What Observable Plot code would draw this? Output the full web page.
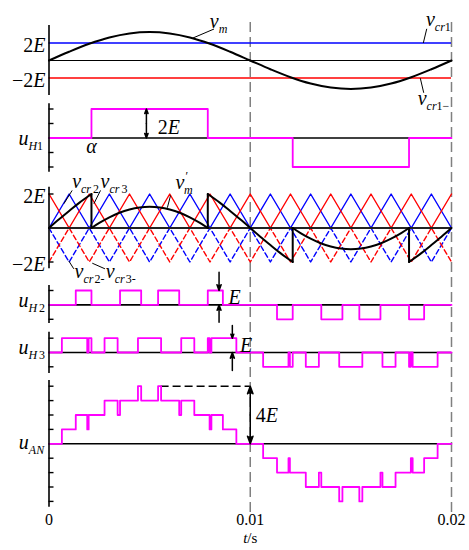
<!DOCTYPE html>
<html><head><meta charset="utf-8">
<script src="https://cdn.jsdelivr.net/npm/d3@7"></script>
<script src="https://cdn.jsdelivr.net/npm/@observablehq/plot@0.6"></script>
<style>
body{margin:0;background:#fff;}
#chart{position:relative;width:469px;height:550px;}
#chart svg{position:absolute;left:0;top:0;overflow:visible;}
</style></head><body><div id="chart"></div>
<script>
// ---------------- data (time in ms, values in units of E) ----------------
const xTicks = [0, 0.01, 0.02];
const xTickLabels = ["0", "0.01", "0.02"];

// modulating wave v_m (top panel)
const vmT = [0,1,2,3,4,5,6,7,8,9,10,11,12,13,14,15,16,17,18,19,20];
const vmV = [0,1.00,1.91,2.63,3.09,3.25,3.09,2.63,1.91,1.00,0,-1.00,-1.91,-2.63,-3.09,-3.25,-3.09,-2.63,-1.91,-1.00,0];

// carriers (vertices)
const carrierT = [0,1,2,3,4,5,6,7,8,9,10,11,12,13,14,15,16,17,18,19,20];
const vcr2V = [0,2,0,2,0,2,0,2,0,2,0,2,0,2,0,2,0,2,0,2,0];
const vcr3V = [2,0,2,0,2,0,2,0,2,0,2,0,2,0,2,0,2,0,2,0,2];
const vcr2mV = [0,-2,0,-2,0,-2,0,-2,0,-2,0,-2,0,-2,0,-2,0,-2,0,-2,0];
const vcr3mV = [-2,0,-2,0,-2,0,-2,0,-2,0,-2,0,-2,0,-2,0,-2,0,-2,0,-2];

// modified modulating wave v'_m, piecewise segments
const vmPrimeSegs = [
  {t:[0,0.5,1,1.5,2.11], v:[0,0.51,1.00,1.48,2.00]},
  {t:[2.11,2.11], v:[2.00,0]},
  {t:[2.11,2.5,3,3.5,4,4.5,5,5.5,6,6.5,7,7.5,7.89], v:[0,0.30,0.63,0.90,1.09,1.21,1.25,1.21,1.09,0.90,0.63,0.30,0]},
  {t:[7.89,7.89], v:[0,2.00]},
  {t:[7.89,8.5,9,9.5,10], v:[2.00,1.48,1.00,0.51,0]},
  {t:[10,10.5,11,11.5,12.11], v:[0,-0.51,-1.00,-1.48,-2.00]},
  {t:[12.11,12.11], v:[-2.00,0]},
  {t:[12.11,12.5,13,13.5,14,14.5,15,15.5,16,16.5,17,17.5,17.89], v:[0,-0.30,-0.63,-0.90,-1.09,-1.21,-1.25,-1.21,-1.09,-0.90,-0.63,-0.30,0]},
  {t:[17.89,17.89], v:[0,-2.00]},
  {t:[17.89,18.5,19,19.5,20], v:[-2.00,-1.48,-1.00,-0.51,0]}
];

// cell output pulses [start ms, end ms, level E]
const uH1Pulses = [[2.11,7.89,2],[12.11,17.89,-2]];
const uH2Pulses = [[1.33,2.11,1],[3.53,4.58,1],[5.42,6.47,1],[7.89,8.64,1],
                   [11.33,12.11,-1],[13.53,14.58,-1],[15.42,16.47,-1],[17.89,18.64,-1]];
const uH3Pulses = [[0.64,1.90,1],[1.97,2.11,1],[2.76,3.41,1],[4.42,5.57,1],[6.57,7.22,1],[7.89,7.98,1],[8.07,9.31,1],
                   [10.64,11.90,-1],[11.97,12.11,-1],[12.76,13.41,-1],[14.42,15.57,-1],[16.57,17.22,-1],[17.89,17.98,-1],[18.07,19.31,-1]];

// ---------------- annotations ----------------
const p1Labels = [{t:7.99,y:3.77,k:"vm"},{t:18.73,y:3.92,k:"vcr1"},{t:18.32,y:-5.06,k:"vcr1−"}];
const p1Leaders = [{t1:8.2,y1:3.6,t2:7.13,y2:2.55},{t1:18.77,y1:3.62,t2:18.6,y2:2},{t1:18.62,y1:-3.69,t2:18.45,y2:-2.02}];
const p2Labels = [{t:-1.52,y:-0.45,k:"uH1"},{t:5.4,y:0.3,k:"2E"}];
const p2Alpha = [{t:2.11,y:-1.0,k:"α"}];
const p2Arrows = [{t:4.84,from:1,to:2},{t:4.84,from:1,to:0}];
const p3Labels = [{t:1.15,y:2.38,k:"vcr2"},{t:2.56,y:2.38,k:"vcr3"},{t:6.29,y:2.3,k:"v′m"},{t:1.27,y:-2.97,k:"vcr2−"},{t:2.82,y:-2.97,k:"vcr3−"}];
const p3Leaders = [{t1:1.15,y1:2.21,t2:0.74,y2:1.43},{t1:2.56,y1:2.21,t2:2.23,y2:1.43},{t1:6.04,y1:1.91,t2:5.88,y2:1.19},
                   {t1:1.23,y1:-2.4,t2:0.99,y2:-1.95},{t1:2.78,y1:-2.4,t2:2.15,y2:-2.07}];
const p4Labels = [{t:-1.52,y:-0.18,k:"uH2"},{t:8.92,y:0.08,k:"E"}];
const p4Arrows = [{t:8.45,from:2.27,to:1},{t:8.45,from:-1.2,to:0}];
const p5Labels = [{t:-1.52,y:-0.09,k:"uH3"},{t:9.49,y:0.02,k:"E"}];
const p5Arrows = [{t:9.11,from:1.89,to:1},{t:9.11,from:-1.26,to:0}];
const p6Labels = [{t:-1.5,y:-0.33,k:"uAN"},{t:10.27,y:1.5,k:"4E"}];
const p6Arrows = [{t:10,from:2,to:4},{t:10,from:2,to:0}];
const p6PeakLine = [{t1:5.57,t2:10,y:4}];

// ---------------- rich text formats ----------------
const FMT = {
  "vm": [["v","i"],["m","is"]],
  "vcr1": [["v","i"],["cr","is"],["1","s"]],
  "vcr1−": [["v","i"],["cr","is"],["1−","s"]],
  "uH1": [["u","i"],["H","is"],["1","s"]],
  "α": [["α","i"]],
  "2E": [["2",""],["E","i"]],
  "−2E": [["−2",""],["E","i"]],
  "vcr2": [["v","i"],["cr","is"],["2","s",2]],
  "vcr3": [["v","i"],["cr","is"],["3","s",2]],
  "v′m": [["v","i"],["′","p",1],["m","is",-4]],
  "vcr2−": [["v","i"],["cr","is"],["2-","s",1]],
  "vcr3−": [["v","i"],["cr","is"],["3-","s",1]],
  "uH2": [["u","i"],["H","is"],["2","s",2]],
  "uH3": [["u","i"],["H","is"],["3","s",2]],
  "uAN": [["u","i"],["AN","is"]],
  "E": [["E","i"]],
  "4E": [["4",""],["E","i"]],
  "t/s": [["t","i"],["/s",""]]
};
function richify(svg){
  svg.querySelectorAll("text").forEach(el => {
    const spec = FMT[el.textContent];
    if (!spec) return;
    el.textContent = "";
    let shift = 0;
    for (const [str, st, dx] of spec) {
      const ts = document.createElementNS("http://www.w3.org/2000/svg","tspan");
      ts.textContent = str;
      const sub = st.includes("s"), sup = st.includes("p");
      const target = sub ? 5 : sup ? -9 : 0;
      if (target !== shift) ts.setAttribute("dy", target - shift);
      shift = target;
      if (st.includes("i")) ts.setAttribute("font-style","italic");
      if (sub || sup) ts.setAttribute("font-size", 12);
      if (dx) ts.setAttribute("dx", dx);
      el.appendChild(ts);
    }
  });
  svg.querySelectorAll('g[aria-label="arrow"] path').forEach(p => p.setAttribute("fill","black"));
}

// ---------------- helpers ----------------
const W = 469, H = 550, ML = 48.5, MR = 18;
const FONT = '"Liberation Serif","Times New Roman",serif';
const MAG = "#ff00ff", BLUE = "#0000ff", RED = "#ff0000";
const tx = d => d.t / 1000;

function steps(pulses){
  const pts = [{t:0,v:0}];
  for (const [s,e,l] of pulses) pts.push({t:s,v:0},{t:s,v:l},{t:e,v:l},{t:e,v:0});
  pts.push({t:20,v:0});
  return pts;
}
function sumSteps(list){
  const edges = Array.from(new Set([0,20].concat(...list.map(p => p.flatMap(([s,e]) => [s,e]))))).sort((a,b)=>a-b);
  const lvl = (p,t) => { for (const [s,e,l] of p) if (t >= s && t < e) return l; return 0; };
  const pts = [];
  for (let i = 0; i < edges.length - 1; i++) {
    const a = edges[i], b = edges[i+1], m = (a+b)/2;
    const v = d3.sum(list, p => lvl(p,m));
    pts.push({t:a,v},{t:b,v});
  }
  return pts;
}
const series = (T, V) => T.map((t,i) => ({t, v:V[i]}));

function axis(lo, hi, ticks){
  return [
    Plot.ruleX([0], {y1:lo, y2:hi, stroke:"black", strokeWidth:1.6}),
    Plot.ruleY(ticks, {x1:0, x2:0, insetRight:-5, stroke:"black", strokeWidth:1.4})
  ];
}
function labels(data, anchor="start"){
  return Plot.text(data, {x:tx, y:"y", text:"k", textAnchor:anchor, lineAnchor:"bottom", fontSize:20, fill:"black"});
}
function yLabels(vals, keys){
  return Plot.text(vals.map((y,i)=>({y,k:keys[i]})), {x:0, y:"y", text:"k", textAnchor:"end", lineAnchor:"middle", dx:-3.5, dy:2.5, fontSize:20, fill:"black"});
}
function leaders(data){
  return Plot.link(data, {x1:d=>d.t1/1000, y1:"y1", x2:d=>d.t2/1000, y2:"y2", stroke:"black", strokeWidth:1});
}
function arrows(data){
  return Plot.arrow(data, {x1:tx, y1:"from", x2:tx, y2:"to", stroke:"black", strokeWidth:1.5, headLength:8, headAngle:40});
}
function panel(domain, yTop, yBottom, marks){
  return Plot.plot({
    width:W, height:H, marginLeft:ML, marginRight:MR, marginTop:yTop, marginBottom:H - yBottom,
    x:{domain:[0,0.02], axis:null}, y:{domain, axis:null},
    style:{fontFamily:FONT, fontSize:"20px", background:"transparent", overflow:"visible"},
    marks
  });
}

const chart = document.getElementById("chart");
const svgs = [];

// overlay: dashed time markers and time axis labels
svgs.push(Plot.plot({
  width:W, height:H, marginLeft:ML, marginRight:MR, marginTop:22, marginBottom:37,
  x:{domain:[0,0.02], axis:null},
  style:{fontFamily:FONT, fontSize:"18px", background:"transparent", overflow:"visible"},
  marks:[
    Plot.ruleX(xTicks.slice(1), {stroke:"#808080", strokeWidth:1.5, strokeDasharray:"10,5"}),
    Plot.text(xTicks, {x:d=>d, text:(d,i)=>xTickLabels[i], frameAnchor:"bottom", lineAnchor:"bottom", dy:11, fontSize:16, fill:"black"}),
    Plot.text(["t/s"], {x:0.01, text:d=>d, frameAnchor:"bottom", lineAnchor:"bottom", dy:29, fontSize:15, fill:"black"})
  ]
}));

// panel 1: v_m and v_cr1
svgs.push(panel([-4,4], 25, 95, [
  Plot.ruleY([0], {stroke:"black", strokeWidth:1.2}),
  Plot.ruleY([2], {stroke:BLUE, strokeWidth:1.5}),
  Plot.ruleY([-2], {stroke:RED, strokeWidth:1.5}),
  Plot.line(series(vmT, vmV), {x:tx, y:"v", stroke:"black", strokeWidth:2, curve:"catmull-rom"}),
  ...axis(-4, 4, []),
  leaders(p1Leaders),
  labels(p1Labels),
  yLabels([2,-2], ["2E","−2E"])
]));

// panel 2: u_H1
svgs.push(panel([-2,2], 108.5, 166.5, [
  Plot.ruleY([0], {stroke:"black", strokeWidth:1.6}),
  Plot.line(steps(uH1Pulses), {x:tx, y:"v", stroke:MAG, strokeWidth:1.8}),
  ...axis(-2.36, 2.36, [-2,-1,1,2]),
  arrows(p2Arrows),
  labels(p2Labels),
  labels(p2Alpha, "middle")
]));

// panel 3: carriers and v'_m
svgs.push(panel([-2,2], 193.5, 261.5, [
  Plot.line(series(carrierT, vcr2V), {x:tx, y:"v", stroke:BLUE, strokeWidth:1.4}),
  Plot.line(series(carrierT, vcr3V), {x:tx, y:"v", stroke:RED, strokeWidth:1.4}),
  Plot.line(series(carrierT, vcr2mV), {x:tx, y:"v", stroke:BLUE, strokeWidth:1.4, strokeDasharray:"5,3"}),
  Plot.line(series(carrierT, vcr3mV), {x:tx, y:"v", stroke:RED, strokeWidth:1.4, strokeDasharray:"5,3"}),
  Plot.ruleY([0], {stroke:"#222", strokeWidth:2.2}),
  ...vmPrimeSegs.map(s => Plot.line(series(s.t, s.v), {x:tx, y:"v", stroke:"black", strokeWidth:2, curve:"catmull-rom"})),
  ...axis(-2.4, 2.4, [-2,2]),
  leaders(p3Leaders),
  labels(p3Labels),
  yLabels([2,-2], ["2E","−2E"])
]));

// panel 4: u_H2
svgs.push(panel([-1,1], 290, 318.8, [
  Plot.ruleY([0], {stroke:"black", strokeWidth:1.6}),
  Plot.line(steps(uH2Pulses), {x:tx, y:"v", stroke:MAG, strokeWidth:1.8}),
  ...axis(-1.3, 1.35, [-1,1]),
  arrows(p4Arrows),
  labels(p4Labels)
]));

// panel 5: u_H3
svgs.push(panel([-1,1], 337.7, 366.3, [
  Plot.ruleY([0], {stroke:"black", strokeWidth:1.6}),
  Plot.line(steps(uH3Pulses), {x:tx, y:"v", stroke:MAG, strokeWidth:1.8}),
  ...axis(-1.46, 1.42, [-1,1]),
  arrows(p5Arrows),
  labels(p5Labels)
]));

// panel 6: u_AN = u_H1 + u_H2 + u_H3
svgs.push(panel([-4,4], 385.7, 500.9, [
  Plot.ruleY([0], {stroke:"black", strokeWidth:1.6}),
  Plot.ruleY(p6PeakLine, {y:"y", x1:d=>d.t1/1000, x2:d=>d.t2/1000, stroke:"black", strokeWidth:1.5, strokeDasharray:"8,4"}),
  Plot.line(sumSteps([uH1Pulses, uH2Pulses, uH3Pulses]), {x:tx, y:"v", stroke:MAG, strokeWidth:1.8}),
  ...axis(-4.4, 4.4, [-4,-3,-2,-1,1,2,3,4]),
  arrows(p6Arrows),
  labels(p6Labels)
]));

for (const s of svgs) { richify(s); chart.appendChild(s); }
</script></body></html>
